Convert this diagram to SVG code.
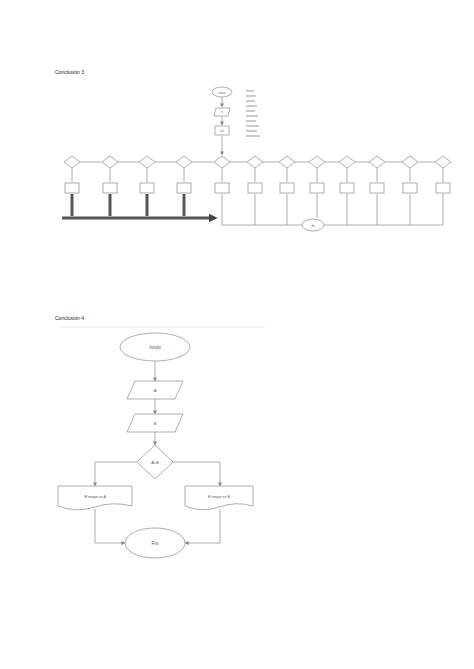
<svg xmlns="http://www.w3.org/2000/svg" width="474" height="669" viewBox="0 0 474 669">
<defs>
<style>
.t{font-family:"Liberation Sans",Arial,sans-serif;fill:#555}
.h{font-family:"Liberation Sans",Arial,sans-serif;fill:#222}
.s{fill:#fff;stroke:#999;stroke-width:0.8}
.c{fill:none;stroke:#999;stroke-width:0.8}
.k{fill:none;stroke:#555;stroke-width:3}
.b{fill:none;stroke:#ddd;stroke-width:0.6}
</style>
<marker id="a" viewBox="0 0 10 10" refX="9" refY="5" markerWidth="5" markerHeight="5" orient="auto"><path d="M0,0L10,5L0,10z" fill="#888"/></marker>
<marker id="ak" viewBox="0 0 10 10" refX="6" refY="5" markerWidth="3" markerHeight="3" orient="auto"><path d="M0,0L10,5L0,10z" fill="#444"/></marker>
</defs>
<rect width="474" height="669" fill="#fff"/>
<text class="h" x="55" y="74" font-size="5">Conclusión 3</text>
<text class="h" x="55" y="320" font-size="5">Conclusión 4</text>
<g id="connectors">
<path class="c" d="M222,97V107" marker-end="url(#a)"/>
<path class="c" d="M222,117V125" marker-end="url(#a)"/>
<path class="c" d="M222,136V155" marker-end="url(#a)"/>
<path class="c" d="M80,162H102M118,162H139M155,162H176M192,162H214M230,162H247M263,162H279M295,162H309M325,162H339M355,162H369M385,162H402M418,162H435"/>
<path class="c" d="M72,168V182M110,168V182M147,168V182M184,168V182M222,168V182M255,168V182M287,168V182M317,168V182M347,168V182M377,168V182M410,168V182M443,168V182"/>
<path class="k" d="M72,194V216M110,194V216M147,194V216M184,194V216"/>
<path class="k" d="M62,218H214" marker-end="url(#ak)"/>
<path class="c" d="M222,194V225M255,194V225M287,194V225M347,194V225M377,194V225M410,194V225M443,194V225"/>
<path class="c" d="M222,225H302M324,225H443"/>
<path class="c" d="M317,194V218"/>
<path class="b" d="M60,327H265"/>
<path class="c" d="M155,361V381" marker-end="url(#a)"/>
<path class="c" d="M155,399V414" marker-end="url(#a)"/>
<path class="c" d="M155,432V445" marker-end="url(#a)"/>
<path class="c" d="M137,462H95V486" marker-end="url(#a)"/>
<path class="c" d="M173,462H220V486" marker-end="url(#a)"/>
<path class="c" d="M95,509V543H125" marker-end="url(#a)"/>
<path class="c" d="M220,509V543H185" marker-end="url(#a)"/>
</g>
<g id="top-start"><ellipse class="s" cx="222" cy="92" rx="10" ry="5"/><text class="t" x="222" y="93.5" font-size="3" text-anchor="middle">inicio</text></g>
<g id="top-in1"><path class="s" d="M216,108H230L228,116H214Z"/><text class="t" x="222" y="113" font-size="3" text-anchor="middle">n</text></g>
<g id="top-in2"><rect class="s" x="215" y="126" width="14" height="9"/><text class="t" x="222" y="132" font-size="3" text-anchor="middle">i=1</text></g>
<g id="top-notes" fill="#ccc"><rect x="246" y="90" width="8" height="2"/><rect x="246" y="95" width="10" height="2"/><rect x="246" y="100" width="9" height="2"/><rect x="246" y="105" width="11" height="2"/><rect x="246" y="110" width="9" height="2"/><rect x="246" y="115" width="12" height="2"/><rect x="246" y="120" width="10" height="2"/><rect x="246" y="125" width="13" height="2"/><rect x="246" y="130" width="11" height="2"/><rect x="246" y="135" width="14" height="2"/></g>
<g id="top-row">
<g id="d1"><path class="s" d="M64,162L72,156L80,162L72,168Z"/><rect class="s" x="65" y="183" width="14" height="10"/></g>
<g id="d2"><path class="s" d="M102,162L110,156L118,162L110,168Z"/><rect class="s" x="103" y="183" width="14" height="10"/></g>
<g id="d3"><path class="s" d="M139,162L147,156L155,162L147,168Z"/><rect class="s" x="140" y="183" width="14" height="10"/></g>
<g id="d4"><path class="s" d="M176,162L184,156L192,162L184,168Z"/><rect class="s" x="177" y="183" width="14" height="10"/></g>
<g id="d5"><path class="s" d="M214,162L222,156L230,162L222,168Z"/><rect class="s" x="215" y="183" width="14" height="10"/></g>
<g id="d6"><path class="s" d="M247,162L255,156L263,162L255,168Z"/><rect class="s" x="248" y="183" width="14" height="10"/></g>
<g id="d7"><path class="s" d="M279,162L287,156L295,162L287,168Z"/><rect class="s" x="280" y="183" width="14" height="10"/></g>
<g id="d8"><path class="s" d="M309,162L317,156L325,162L317,168Z"/><rect class="s" x="310" y="183" width="14" height="10"/></g>
<g id="d9"><path class="s" d="M339,162L347,156L355,162L347,168Z"/><rect class="s" x="340" y="183" width="14" height="10"/></g>
<g id="d10"><path class="s" d="M369,162L377,156L385,162L377,168Z"/><rect class="s" x="370" y="183" width="14" height="10"/></g>
<g id="d11"><path class="s" d="M402,162L410,156L418,162L410,168Z"/><rect class="s" x="403" y="183" width="14" height="10"/></g>
<g id="d12"><path class="s" d="M435,162L443,156L451,162L443,168Z"/><rect class="s" x="436" y="183" width="14" height="10"/></g>
</g>
<g id="top-end"><ellipse class="s" cx="313" cy="225" rx="11" ry="6"/><text class="t" x="313" y="226.5" font-size="3" text-anchor="middle">fin</text></g>
<g id="inicio"><ellipse class="s" cx="155" cy="347" rx="35" ry="14"/><text class="t" x="155" y="349" font-size="5" text-anchor="middle">Inicio</text></g>
<g id="leerA"><path class="s" d="M135,381H183L175,399H127Z"/><text class="t" x="155" y="392" font-size="4" text-anchor="middle">A</text></g>
<g id="leerB"><path class="s" d="M135,414H183L175,432H127Z"/><text class="t" x="155" y="425" font-size="4" text-anchor="middle">B</text></g>
<g id="decision"><path class="s" d="M137,462L155,445L173,462L155,479Z"/><text class="t" x="155" y="464" font-size="4" text-anchor="middle">A&gt;B</text></g>
<g id="docA"><path class="s" d="M58,486H132V506Q113,501 95,507Q76,513 58,506Z"/><text class="t" x="95" y="498" font-size="3.5" text-anchor="middle">El mayor es A</text></g>
<g id="docB"><path class="s" d="M185,486H253V506Q236,501 219,507Q202,513 185,506Z"/><text class="t" x="219" y="498" font-size="3.5" text-anchor="middle">El mayor es B</text></g>
<g id="fin"><ellipse class="s" cx="155" cy="543" rx="30" ry="15"/><text class="t" x="155" y="545" font-size="5" text-anchor="middle">Fin</text></g>
</svg>
